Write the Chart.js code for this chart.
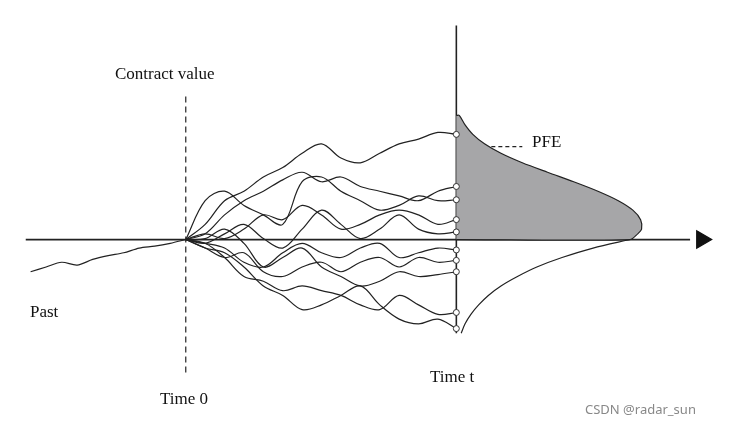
<!DOCTYPE html><html><head><script src="https://cdn.jsdelivr.net/npm/chart.js@4"></script>
<style>body{margin:0;background:#fff}#w{width:742px;height:426px}</style></head><body><div id="w"><canvas id="c"></canvas></div>
<script>
const pathX=[180,200,220,240,260,280,300,320,340,360,380,400,420,440,459];
const paths=[
[0,16,41,51,66,76,91,101,86,81,91,101,106,113,111],
[0,6,26,41,51,63,71,61,66,56,51,46,41,51,56],
[0,41,51,36,26,16,61,66,51,41,31,36,46,41,42],
[0,6,1,11,26,21,36,26,11,16,26,31,26,16,21],
[0,-4,6,16,1,-9,11,31,16,1,11,26,11,6,8],
[0,-4,-9,-24,-29,-14,-4,-14,-19,-9,-4,-19,-14,-9,-11],
[0,-9,-19,-14,-34,-39,-29,-24,-34,-24,-19,-29,-19,-24,-22],
[0,1,11,-4,-29,-19,-9,-29,-39,-49,-44,-34,-39,-37,-34],
[0,-4,-19,-39,-44,-54,-49,-54,-59,-69,-74,-59,-69,-79,-77],
[0,-9,-14,-29,-49,-59,-74,-69,-59,-49,-69,-84,-89,-84,-94]];
const pastX=[20,36,52,68,84,100,116,132,148,164,180];
const pastY=[-34,-29,-24,-27,-21,-17,-14,-9,-7,-4,0];
const upperLevel=[131,121,111,101,91,81,71,61,51,41,31,21,11,6,0];
const upperDensity=[462,468,476,488,505,527,553,580,605,626,641,649,650,646,638];
const lowerLevel=[0,-9,-19,-29,-39,-49,-59,-69,-79,-89,-99];
const lowerDensity=[638,600,568,542,522,505,492,482,474,468,464];
const labels=[["Contract value",115,75],["PFE",532,143],["Past",30,313],["Time 0",160,400],["Time t",430,378]];
const ds=[];
const L=(data,extra)=>Object.assign({data,borderColor:'#222',borderWidth:1.2,pointRadius:0,tension:0,fill:false},extra);
paths.forEach(p=>ds.push(L(p.map((v,i)=>({x:pathX[i],y:v})),{tension:0.35,pointRadius:c=>c.dataIndex===p.length-1?3:0,pointBackgroundColor:'#fff',pointBorderColor:'#333',pointBorderWidth:1})));
ds.push(L(pastX.map((x,i)=>({x,y:pastY[i]})),{tension:0.3}));
const up=upperLevel.map((v,i)=>({x:upperDensity[i],y:v}));
ds.push(L([{x:459,y:upperLevel[0]},...up,{x:459,y:0}],{fill:'shape',backgroundColor:'#a6a6a8',tension:0.3}));
ds.push(L(lowerLevel.map((v,i)=>({x:lowerDensity[i],y:v})),{tension:0.3}));
ds.push(L([{x:15,y:0},{x:700,y:0}],{borderWidth:1.8}));
ds.push(L([{x:712,y:0}],{pointRadius:10,pointStyle:'triangle',rotation:90,pointBackgroundColor:'#111',pointBorderColor:'#111',showLine:false}));
ds.push(L([{x:459,y:226},{x:459,y:-99}],{borderWidth:1.6}));
ds.push(L([{x:180,y:151},{x:180,y:-144}],{borderDash:[6,4]}));
ds.push(L([{x:459,y:98},{x:527,y:98}],{borderDash:[4,3]}));
const txt={id:'txt',afterDraw(ch){const g=ch.ctx;g.save();g.fillStyle='#111';g.font='17px "Liberation Serif"';g.textBaseline='middle';labels.forEach(([t,x,y])=>g.fillText(t,x,y));g.fillStyle='#888';g.font='13px "Noto Sans"';g.fillText('CSDN @radar_sun',585,410);g.restore();}};
new Chart(document.getElementById('c'),{type:'line',data:{datasets:ds},plugins:[txt],options:{animation:false,responsive:true,maintainAspectRatio:false,layout:{padding:0},plugins:{legend:{display:false},tooltip:{enabled:false}},scales:{x:{type:'linear',display:false,min:0,max:742},y:{display:false,min:-185,max:241}}}});
</script></body></html>
